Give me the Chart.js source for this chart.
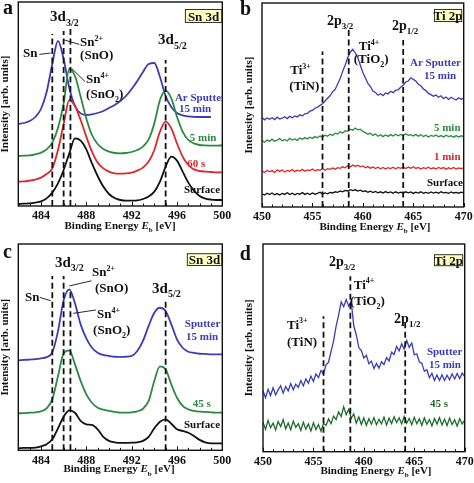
<!DOCTYPE html>
<html>
<head>
<meta charset="utf-8">
<script src="https://cdn.jsdelivr.net/npm/chart.js@4.4.1/dist/chart.umd.min.js"></script>
<style>
  html, body { margin: 0; padding: 0; background: #fff; }
  #wrap { position: relative; width: 474px; height: 483px; overflow: hidden; }
  canvas { position: absolute; }
</style>
</head>
<body>
<div id="wrap">
  <canvas id="pa" width="237" height="241" style="left:0;top:0"></canvas>
  <canvas id="pb" width="237" height="241" style="left:237px;top:0"></canvas>
  <canvas id="pc" width="237" height="242" style="left:0;top:241px"></canvas>
  <canvas id="pd" width="237" height="242" style="left:237px;top:241px"></canvas>
</div>
<script>
// energie de liaison (eV)
const E_SN = [482, 482.5, 483, 483.5, 484, 484.5, 485, 485.5, 486, 486.5, 487, 487.5, 488, 488.5, 489, 489.5,
  490, 490.5, 491, 491.5, 492, 492.5, 493, 493.5, 494, 494.5, 495, 495.5, 496, 496.5, 497, 497.5, 498, 498.5,
  499, 499.5, 500];
const E_TI = [450, 450.25, 450.5, 450.75, 451, 451.25, 451.5, 451.75, 452, 452.25, 452.5, 452.75, 453, 453.25,
  453.5, 453.75, 454, 454.25, 454.5, 454.75, 455, 455.25, 455.5, 455.75, 456, 456.25, 456.5, 456.75, 457, 457.25,
  457.5, 457.75, 458, 458.25, 458.5, 458.75, 459, 459.25, 459.5, 459.75, 460, 460.25, 460.5, 460.75, 461, 461.25,
  461.5, 461.75, 462, 462.25, 462.5, 462.75, 463, 463.25, 463.5, 463.75, 464, 464.25, 464.5, 464.75, 465, 465.25,
  465.5, 465.75, 466, 466.25, 466.5, 466.75, 467, 467.25, 467.5, 467.75, 468, 468.25, 468.5, 468.75, 469, 469.25,
  469.5, 469.75, 470];

// (a) Sn 3d
const A_SURFACE = [1.0, 1.2, 1.3, 1.7, 2.3, 3.8, 6.7, 11.3, 18, 26.3, 33.8, 32.7, 28.3, 21.3, 15, 9.7, 6, 4, 3,
  2.7, 2.7, 2.8, 3.5, 4.7, 7.2, 12.2, 19.7, 24.7, 22.7, 17.2, 11.7, 7.7, 5, 3.7, 3.2, 3, 3];
const A_60S = [12.2, 12.3, 12.7, 13.2, 14.2, 16, 18.8, 28, 41, 53, 50, 43, 34.7, 27.2, 21.7, 18.8, 17.2, 16.3,
  16.2, 16.3, 16.7, 17.7, 19.2, 22.2, 28, 37.2, 42.2, 38.8, 31.3, 24.7, 20.5, 18.3, 17.5, 17.2, 17, 16.8, 16.8];
const A_5MIN = [25, 25.2, 25.3, 25.8, 26.7, 28.3, 31.7, 39, 51.3, 68.5, 65, 54.7, 43.8, 35.5, 31, 28.5, 27.2,
  26.5, 26.3, 26.5, 27, 28, 29.7, 33.3, 41.3, 53, 57.7, 53.8, 44.7, 37.2, 33, 31.3, 30.5, 30.3, 30.2, 30.2, 30.3];
const A_15MIN = [41, 41.5, 42.5, 44.5, 48.5, 57, 71, 82.5, 73.5, 59, 50, 46.3, 45.5, 45.8, 46.5, 47.5, 49, 50.5,
  52.5, 55, 58.5, 62.5, 67, 71, 71.5, 64.5, 55, 49.5, 46.5, 45.3, 44.8, 44.6, 44.5, 44.5, 44.5, null, null];

// (b) Ti 2p
const B_15MIN = [44.8, 43.6, 44.5, 43.9, 44.6, 43.7, 44.9, 44.0, 44.4, 45.1, 44.2, 45.3, 44.6, 45.5, 45.0, 46.1,
  45.6, 46.6, 46.8, 47.9, 48.3, 49.4, 49.9, 50.8, 51.6, 53.0, 54.4, 55.6, 57.5, 58.8, 61.5, 64.2, 67.9, 71.0, 74.6,
  77.4, 78.8, 77.0, 74.6, 70.9, 67.3, 64.6, 61.8, 60.2, 58.0, 57.3, 55.9, 56.6, 55.7, 57.0, 56.5, 57.9, 57.2, 58.4,
  58.6, 59.9, 60.8, 62.5, 63.0, 64.6, 63.8, 63.0, 61.4, 60.6, 59.0, 58.2, 56.8, 56.2, 55.4, 56.0, 54.9, 55.6, 54.2,
  55.0, 53.8, 54.9, 54.1, 53.5, 54.6, 53.9, 54.4];
const B_5MIN = [33.2, 32.4, 33.5, 32.8, 33.9, 32.9, 33.4, 34.2, 33.1, 33.8, 33.0, 34.3, 33.5, 34.0, 33.3, 34.5,
  33.9, 34.7, 34.0, 34.9, 34.3, 35.2, 34.6, 35.5, 35.0, 35.9, 35.4, 36.4, 35.8, 36.9, 36.5, 37.6, 37.0, 38.1, 37.8,
  38.9, 38.4, 39.5, 38.6, 38.9, 37.8, 37.2, 36.4, 36.9, 35.8, 36.5, 35.4, 36.1, 35.2, 36.0, 35.3, 36.2, 35.5, 36.4,
  35.6, 36.3, 35.7, 36.6, 35.9, 36.2, 35.5, 36.3, 35.4, 36.1, 35.2, 35.9, 35.0, 35.8, 35.3, 36.0, 35.1, 35.7, 35.0,
  35.9, 35.2, 35.6, 34.9, 35.7, 35.0, 35.6, 35.2];
const B_1MIN = [18.0, 17.3, 18.4, 17.6, 18.2, 17.2, 18.6, 17.8, 18.5, 17.5, 18.3, 17.9, 18.7, 17.7, 18.4, 18.0,
  18.8, 17.9, 18.5, 18.2, 19.0, 18.1, 18.7, 18.3, 19.1, 18.4, 19.2, 18.8, 19.5, 18.9, 19.7, 19.3, 20.1, 19.6, 20.6,
  20.0, 21.0, 20.3, 20.9, 20.1, 20.5, 19.6, 20.2, 19.4, 20.0, 19.2, 19.9, 19.1, 19.8, 19.0, 19.7, 19.2, 19.9, 19.1,
  19.8, 19.3, 20.0, 19.2, 19.9, 19.4, 20.1, 19.3, 19.8, 19.0, 19.7, 19.2, 19.9, 19.1, 19.6, 19.0, 19.8, 19.2, 19.7,
  18.9, 19.6, 19.1, 19.8, 19.0, 19.5, 19.2, 19.6];
const B_SURFACE = [6.6, 6.0, 6.9, 6.2, 7.0, 6.1, 6.7, 6.0, 6.8, 6.3, 7.1, 6.2, 6.9, 6.1, 6.8, 6.4, 7.2, 6.3, 6.9,
  6.2, 7.0, 6.4, 6.8, 7.4, 6.5, 7.0, 6.6, 7.3, 7.0, 7.6, 7.3, 8.0, 7.6, 8.3, 8.0, 8.7, 8.2, 8.6, 8.0, 8.4, 7.7, 8.1,
  7.4, 7.9, 7.2, 7.8, 7.1, 7.6, 7.0, 7.7, 7.1, 7.5, 6.9, 7.6, 7.0, 7.4, 6.9, 7.6, 7.1, 7.5, 6.8, 7.4, 7.0, 7.6, 6.9,
  7.3, 6.8, 7.5, 7.0, 7.4, 6.9, 7.6, 7.1, 7.3, 6.8, 7.5, 7.0, 7.3, 6.9, 7.4, 7.1];

// (c) Sn 3d
const C_SURFACE = [1, 1.2, 1.2, 1.3, 2, 3, 5.5, 11, 16.8, 20, 18.8, 14.7, 13, 12.7, 10.5, 6.7, 4.7, 4, 3.7, 3.7,
  3.8, 4, 4.7, 6.7, 11, 14.3, 15.5, 13.3, 10.5, 9.7, 8.8, 7.2, 5.2, 4, 3.5, 3.5, 3.5];
const C_45S = [18.5, 18.6, 18.8, 19, 19.5, 21, 25.5, 37, 48.5, 50, 43, 34.7, 28, 23.8, 21.3, 20.3, 19.7, 19.2,
  18.8, 18.8, 19, 19.5, 20.8, 24.7, 34.7, 42, 40.5, 33, 26.3, 22.2, 20.5, 19.7, 19.3, 19.2, 19, 18.8, 18.8];
const C_15MIN = [45, 45.2, 45.4, 45.6, 46, 46.6, 49, 59.5, 75, 80.5, 73.5, 63, 56, 51.3, 48.8, 47.7, 47.2, 46.8,
  46.7, 46.8, 47.2, 49.7, 54.7, 62.2, 68.8, 71.3, 69.7, 63, 55.5, 51.3, 49.3, 48.7, 48.3, 48.2, 48, 48, 48];

// (d) Ti 2p
const D_15MIN = [30.5, 27.0, 31.2, 28.1, 32.0, 28.4, 30.9, 33.0, 29.3, 32.6, 30.4, 34.1, 31.0, 33.8, 32.2, 35.6,
  33.0, 36.4, 34.3, 37.8, 35.2, 38.9, 37.1, 40.6, 38.9, 43.5, 44.8, 50.2, 55.4, 62.8, 68.3, 74.9, 72.6, 76.1, 72.8,
  75.3, 63.0, 58.4, 52.1, 50.6, 46.9, 48.2, 44.0, 45.3, 41.6, 44.2, 41.8, 45.0, 43.6, 47.1, 45.4, 49.8, 48.6, 52.7,
  50.4, 54.0, 51.3, 55.6, 52.2, 54.4, 48.5, 49.0, 45.0, 44.2, 40.2, 41.0, 37.0, 39.2, 35.6, 38.4, 35.7, 38.5, 35.6,
  38.3, 36.0, 39.0, 36.4, 39.1, 36.6, 39.3, 37.5];
const D_45S = [14.8, 11.2, 15.6, 12.0, 14.3, 10.9, 15.1, 12.6, 16.0, 11.5, 14.4, 11.0, 15.3, 12.2, 14.0, 10.6,
  14.7, 11.3, 13.9, 10.4, 14.5, 11.1, 13.6, 10.2, 14.2, 13.1, 16.4, 14.0, 17.8, 16.1, 19.9, 17.6, 22.4, 18.5, 21.2,
  16.8, 18.9, 14.3, 17.4, 13.6, 16.9, 13.2, 16.5, 13.8, 17.1, 13.5, 16.2, 14.0, 17.3, 13.4, 16.8, 14.1, 17.5, 14.6,
  17.0, 13.9, 17.6, 14.3, 16.6, 13.5, 17.2, 14.0, 16.4, 13.2, 16.9, 13.7, 16.1, 12.9, 16.6, 13.8, 17.0, 13.4, 16.3,
  13.1, 16.8, 13.6, 16.0, 12.8, 16.5, 13.9, 15.8];

// positions des raies (eV) et hauteur des tirets
const DASH_A = [485, 486, 486.6, 495], DASH_A_TOP = [86, 87.5, 89.5, 73];
const DASH_B = [456, 458.6, 464], DASH_B_TOP = [77.7, 89.3, 83.5];
const DASH_C = [485, 486, 486.6, 495], DASH_C_TOP = [87.2, 87.2, 80.6, 75.7];
const DASH_D = [456, 458.66, 464.1], DASH_D_TOP = [67.8, 87.8, 64.5];

const SERIF = "'Liberation Serif', 'Times New Roman', serif";
const INK = "#111";
const BLUE = "#3a3db3";
const GREEN = "#2b8a3f";
const RED = "#e0262b";
const DKGREEN = "#1f6a2d";

// texte avec _{indice}, ^{exposant}, ~{italique}
function drawRich(ctx, text, x, y, size, color, align) {
  const parts = [];
  const re = /([_^~])\{([^}]*)\}/g;
  let last = 0, m;
  while ((m = re.exec(text))) {
    if (m.index > last) parts.push({ s: text.slice(last, m.index), k: "" });
    parts.push({ s: m[2], k: m[1] });
    last = re.lastIndex;
  }
  if (last < text.length) parts.push({ s: text.slice(last), k: "" });

  const fontOf = (p) => {
    const small = p.k === "_" || p.k === "^";
    const sz = small ? Math.round(size * 0.64) : size;
    return `${p.k === "~" ? "italic " : ""}bold ${sz}px ${SERIF}`;
  };
  let w = 0;
  parts.forEach((p) => { ctx.font = fontOf(p); p.w = ctx.measureText(p.s).width; w += p.w; });
  let cx = align === "center" ? x - w / 2 : align === "right" ? x - w : x;
  ctx.fillStyle = color;
  ctx.textAlign = "left";
  ctx.textBaseline = "alphabetic";
  parts.forEach((p) => {
    ctx.font = fontOf(p);
    const dy = p.k === "_" ? size * 0.3 : p.k === "^" ? -size * 0.42 : 0;
    ctx.fillText(p.s, cx, y + dy);
    cx += p.w;
  });
}

function makeDeco(cfg) {
  return {
    id: "deco_" + cfg.id,
    afterDatasetsDraw(chart) {
      const { ctx, chartArea: ca, scales: { x, y } } = chart;
      const px = (v) => x.getPixelForValue(v);
      const py = (v) => y.getPixelForValue(v);
      ctx.save();

      // petites graduations vers l'interieur
      ctx.strokeStyle = INK;
      ctx.lineWidth = 1;
      x.ticks.forEach((t) => {
        const X = Math.round(px(t.value)) + 0.5;
        const len = t.value % cfg.major === 0 ? 4 : 2.5;
        ctx.beginPath();
        ctx.moveTo(X, ca.bottom);
        ctx.lineTo(X, ca.bottom - len);
        ctx.stroke();
      });

      ctx.lineWidth = 0.9;
      (cfg.leaders || []).forEach((l) => {
        ctx.beginPath();
        ctx.moveTo(px(l[0]), py(l[1]));
        ctx.lineTo(px(l[2]), py(l[3]));
        ctx.stroke();
      });

      const b = cfg.box;
      const bx = px(b.x0), by = py(b.y1), bw = px(b.x1) - bx, bh = py(b.y0) - by;
      ctx.fillStyle = "#ffffc2";
      ctx.fillRect(bx, by, bw, bh);
      ctx.lineWidth = 1;
      ctx.strokeStyle = "#333";
      ctx.strokeRect(bx + 0.5, by + 0.5, bw - 1, bh - 1);
      drawRich(ctx, b.t, bx + bw / 2, by + bh / 2 + 4.5, 13, INK, "center");

      cfg.labels.forEach((l) => {
        if (l.clip) {
          ctx.save();
          ctx.beginPath();
          ctx.rect(ca.left, ca.top, ca.right - ca.left, ca.bottom - ca.top);
          ctx.clip();
        }
        drawRich(ctx, l.t, px(l.x), py(l.y), l.size || 11, l.color || INK, l.align || "left");
        if (l.clip) ctx.restore();
      });

      ctx.strokeStyle = INK;
      ctx.lineWidth = 1.4;
      ctx.strokeRect(ca.left, ca.top, ca.right - ca.left, ca.bottom - ca.top);

      drawRich(ctx, "Binding Energy ~{E}_{b} [eV]", px(cfg.titleX), ca.bottom + cfg.titleDy, 11, INK, "center");
      ctx.restore();
    }
  };
}

function curve(E, vals, color, smooth, width) {
  return {
    data: E.map((e, i) => ({ x: e, y: vals[i] })),
    borderColor: color,
    borderWidth: width,
    pointRadius: 0,
    tension: 0,
    cubicInterpolationMode: smooth ? "monotone" : "default",
    spanGaps: false,
    fill: false,
    order: 2
  };
}

function dashes(xs, tops) {
  return xs.map((x0, i) => ({
    data: [{ x: x0, y: 0 }, { x: x0, y: tops[i] }],
    borderColor: INK,
    borderWidth: 1.8,
    borderDash: [6, 3.5],
    pointRadius: 0,
    fill: false,
    order: 1
  }));
}

function panel(cfg) {
  return new Chart(document.getElementById(cfg.id), {
    type: "line",
    data: { datasets: [...cfg.series, ...cfg.dashes] },
    options: {
      responsive: false,
      animation: false,
      events: [],
      layout: { padding: { left: 0, top: cfg.padTop, right: cfg.padRight, bottom: 0 } },
      plugins: { legend: { display: false }, tooltip: { enabled: false } },
      scales: {
        x: {
          type: "linear",
          min: cfg.xMin,
          max: cfg.xMax,
          grid: { display: false, drawTicks: false },
          border: { display: false },
          ticks: {
            stepSize: 1,
            autoSkip: false,
            maxRotation: 0,
            padding: 3,
            color: INK,
            font: { family: SERIF, size: 12, weight: "bold" },
            callback: (v) => (v % cfg.major === 0 ? String(v) : "")
          },
          afterFit: (s) => { s.height = cfg.xAxisH; s.paddingLeft = 0; s.paddingRight = 0; }
        },
        y: {
          min: 0,
          max: cfg.yMax,
          grid: { display: false, drawTicks: false },
          border: { display: false },
          ticks: { display: false },
          title: {
            display: true,
            text: "Intensity [arb. units]",
            color: INK,
            font: { family: SERIF, size: 11, weight: "bold", lineHeight: 1 },
            padding: { top: cfg.yTitlePad, bottom: 0 }
          },
          afterFit: (s) => { s.width = cfg.yAxisW; s.paddingTop = 0; s.paddingBottom = 0; }
        }
      }
    },
    plugins: [makeDeco(cfg)]
  });
}

panel({
  id: "pa", xMin: 482, xMax: 500, major: 4, yMax: 102,
  padTop: 2, padRight: 14.7, yAxisW: 18.3, xAxisH: 35, yTitlePad: 0,
  titleX: 490.98, titleDy: 23,
  series: [
    curve(E_SN, A_SURFACE, INK, true, 1.8),
    curve(E_SN, A_60S, RED, true, 1.8),
    curve(E_SN, A_5MIN, GREEN, true, 1.8),
    curve(E_SN, A_15MIN, BLUE, true, 1.8)
  ],
  dashes: dashes(DASH_A, DASH_A_TOP),
  box: { x0: 496.7, x1: 500, y0: 91.5, y1: 98.5, t: "Sn 3d" },
  leaders: [[483.85, 75.8, 484.85, 76.5], [486.06, 83, 487.38, 80.8], [486.71, 68.8, 487.89, 62.2]],
  labels: [
    { t: "a", x: 480.65, y: 96, size: 20 },
    { t: "3d_{3/2}", x: 484.8, y: 92.5, size: 15 },
    { t: "3d_{5/2}", x: 494.33, y: 81, size: 15 },
    { t: "Sn", x: 482.41, y: 74.5, size: 13 },
    { t: "Sn^{2+}", x: 487.45, y: 80, size: 13 },
    { t: "(SnO)", x: 487.45, y: 73.5, size: 13 },
    { t: "Sn^{4+}", x: 487.98, y: 61.5, size: 13 },
    { t: "(SnO_{2})", x: 487.98, y: 54, size: 13 },
    { t: "Ar Sputter", x: 495.82, y: 52.6, color: BLUE, clip: true },
    { t: "15 min", x: 497.6, y: 47, color: BLUE, align: "center" },
    { t: "5 min", x: 498.3, y: 32.5, color: GREEN, align: "center" },
    { t: "60 s", x: 497.7, y: 19.5, color: RED, align: "center" },
    { t: "Surface", x: 499.8, y: 6.5, align: "right" }
  ]
});

panel({
  id: "pb", xMin: 450, xMax: 470, major: 5, yMax: 102,
  padTop: 3, padRight: 10.3, yAxisW: 25, xAxisH: 34, yTitlePad: 6.5,
  titleX: 461.2, titleDy: 23,
  series: [
    curve(E_TI, B_SURFACE, INK, false, 1.3),
    curve(E_TI, B_1MIN, RED, false, 1.3),
    curve(E_TI, B_5MIN, GREEN, false, 1.3),
    curve(E_TI, B_15MIN, BLUE, false, 1.3)
  ],
  dashes: dashes(DASH_B, DASH_B_TOP),
  box: { x0: 467.05, x1: 469.85, y0: 92.5, y1: 99, t: "Ti 2p" },
  leaders: [],
  labels: [
    { t: "b", x: 447.82, y: 96, size: 20 },
    { t: "2p_{3/2}", x: 456.44, y: 91, size: 14 },
    { t: "2p_{1/2}", x: 462.88, y: 88.5, size: 14 },
    { t: "Ti^{4+}", x: 459.6, y: 78.5, size: 13 },
    { t: "(TiO_{2})", x: 459.1, y: 72, size: 13 },
    { t: "Ti^{3+}", x: 452.8, y: 66.5, size: 13 },
    { t: "(TiN)", x: 452.7, y: 58.5, size: 13 },
    { t: "Ar Sputter", x: 464.67, y: 70.5, color: BLUE, clip: true },
    { t: "15 min", x: 466.06, y: 64, color: BLUE },
    { t: "5 min", x: 467.05, y: 38, color: GREEN },
    { t: "1 min", x: 467.05, y: 23.5, color: RED },
    { t: "Surface", x: 466.35, y: 10.5 }
  ]
});

panel({
  id: "pc", xMin: 482, xMax: 500, major: 4, yMax: 103.2,
  padTop: 3, padRight: 14.7, yAxisW: 18.3, xAxisH: 32.7, yTitlePad: 0,
  titleX: 490.89, titleDy: 22,
  series: [
    curve(E_SN, C_SURFACE, INK, true, 1.8),
    curve(E_SN, C_45S, GREEN, true, 1.8),
    curve(E_SN, C_15MIN, BLUE, true, 1.8)
  ],
  dashes: dashes(DASH_C, DASH_C_TOP),
  box: { x0: 496.87, x1: 500, y0: 92.2, y1: 98.6, t: "Sn 3d" },
  leaders: [[483.9, 76.5, 484.86, 74.8], [486.5, 82.2, 488.45, 84.8], [486.85, 68.5, 488.85, 70.2]],
  labels: [
    { t: "c", x: 480.65, y: 96, size: 20 },
    { t: "3d_{3/2}", x: 485.24, y: 91.7, size: 15 },
    { t: "3d_{5/2}", x: 493.8, y: 78.8, size: 15 },
    { t: "Sn^{2+}", x: 488.5, y: 87, size: 13 },
    { t: "(SnO)", x: 488.77, y: 79, size: 13 },
    { t: "Sn", x: 482.6, y: 74.6, size: 13 },
    { t: "Sn^{4+}", x: 488.95, y: 66, size: 13 },
    { t: "(SnO_{2})", x: 488.6, y: 58.3, size: 13 },
    { t: "Sputter", x: 499.82, y: 61.7, color: BLUE, align: "right" },
    { t: "15 min", x: 499.63, y: 55, color: BLUE, align: "right" },
    { t: "45 s", x: 497.4, y: 21.7, color: GREEN },
    { t: "Surface", x: 499.8, y: 11.3, align: "right" }
  ]
});

panel({
  id: "pd", xMin: 450, xMax: 470, major: 5, yMax: 103.9,
  padTop: 3, padRight: 9.3, yAxisW: 26, xAxisH: 31.3, yTitlePad: 6.5,
  titleX: 461.2, titleDy: 22,
  series: [
    curve(E_TI, D_45S, DKGREEN, false, 1.3),
    curve(E_TI, D_15MIN, BLUE, false, 1.3)
  ],
  dashes: dashes(DASH_D, DASH_D_TOP),
  box: { x0: 466.95, x1: 469.85, y0: 92.8, y1: 98.8, t: "Ti 2p" },
  leaders: [],
  labels: [
    { t: "d", x: 447.7, y: 96, size: 20 },
    { t: "2p_{3/2}", x: 456.54, y: 93, size: 14 },
    { t: "Ti^{4+}", x: 459.0, y: 81.5, size: 13 },
    { t: "(TiO_{2})", x: 458.62, y: 73.3, size: 13 },
    { t: "2p_{1/2}", x: 463.0, y: 64.5, size: 14 },
    { t: "Ti^{3+}", x: 452.38, y: 61.5, size: 13 },
    { t: "(TiN)", x: 452.38, y: 52.8, size: 13 },
    { t: "Sputter", x: 466.25, y: 48.5, color: BLUE },
    { t: "15 min", x: 466.45, y: 42, color: BLUE },
    { t: "45 s", x: 466.55, y: 22.3, color: DKGREEN }
  ]
});
</script>
</body>
</html>
